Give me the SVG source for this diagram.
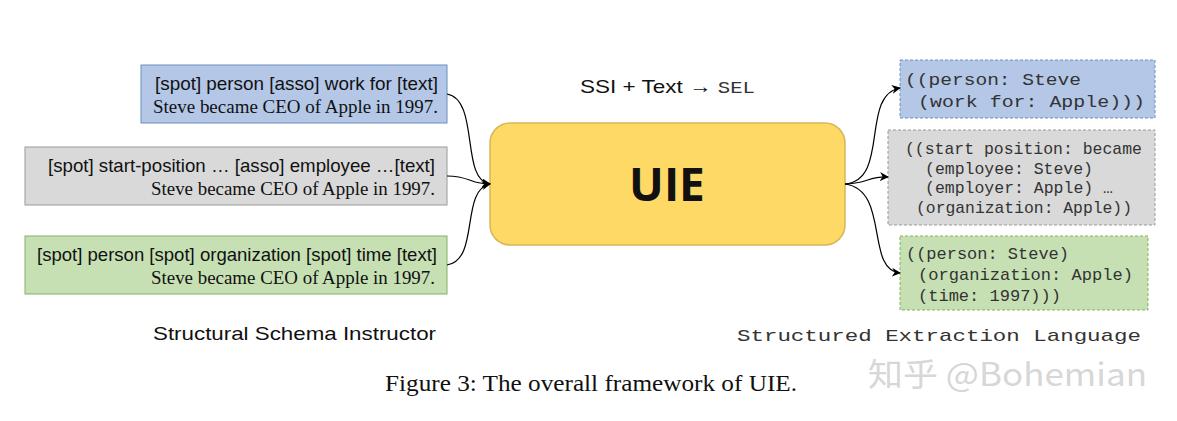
<svg xmlns="http://www.w3.org/2000/svg" width="1177" height="421" viewBox="0 0 1177 421">
<defs>
<marker id="ar" viewBox="0 0 10 10" refX="9" refY="5" markerWidth="9" markerHeight="9" markerUnits="userSpaceOnUse" orient="auto"><path d="M0,0 L10,5 L0,10 L3,5 z" fill="#000"/></marker>
<style>
.s{font-family:"Liberation Sans",Arial,sans-serif;font-size:18.5px;fill:#111}
.r{font-family:"Liberation Serif","Times New Roman",serif;font-size:19px;fill:#111}
.m{font-family:"Liberation Mono","Courier New",monospace;font-size:17px;fill:#333}
.c{fill:none;stroke:#000;stroke-width:1.2}
.bl{fill:#b4c7e7;stroke:#6c8ebf}
.gr{fill:#d9d9d9;stroke:#999}
.gn{fill:#c6e0b4;stroke:#82b366}
.d{stroke-dasharray:3,2}
</style>
</defs>
<rect width="1177" height="421" fill="#fff"/>
<g id="in1"><rect class="bl" x="141" y="65" width="306" height="58"/><text class="s" x="155" y="90" textLength="283" lengthAdjust="spacingAndGlyphs">[spot] person [asso] work for [text]</text><text class="r" x="153" y="113" textLength="285" lengthAdjust="spacingAndGlyphs">Steve became CEO of Apple in 1997.</text></g>
<g id="in2"><rect class="gr" x="25" y="147" width="422" height="58"/><text class="s" x="48" y="172" textLength="387" lengthAdjust="spacingAndGlyphs">[spot] start-position … [asso] employee …[text]</text><text class="r" x="151" y="195" textLength="284" lengthAdjust="spacingAndGlyphs">Steve became CEO of Apple in 1997.</text></g>
<g id="in3"><rect class="gn" x="25" y="236" width="422" height="58"/><text class="s" x="37" y="261" textLength="400" lengthAdjust="spacingAndGlyphs">[spot] person [spot] organization [spot] time [text]</text><text class="r" x="151" y="284" textLength="284" lengthAdjust="spacingAndGlyphs">Steve became CEO of Apple in 1997.</text></g>
<g id="uie"><rect x="490" y="123" width="355" height="122" rx="20" fill="#ffd966" stroke="#d6b656" stroke-width="1.5"/><text x="667" y="201" text-anchor="middle" font-family="'Open Sans','Liberation Sans',sans-serif" font-weight="bold" font-size="46" fill="#111">UIE</text></g>
<text x="580" y="93" class="s" font-size="21" textLength="175" lengthAdjust="spacingAndGlyphs">SSI + Text → <tspan class="m" font-size="20">SEL</tspan></text>
<g id="out1"><rect class="bl d" x="900" y="60" width="255" height="58"/><text class="m" x="905" y="85" textLength="176" lengthAdjust="spacingAndGlyphs">((person: Steve</text><text class="m" x="918" y="107" textLength="227" lengthAdjust="spacingAndGlyphs">(work for: Apple)))</text></g>
<g id="out2"><rect class="gr d" x="888" y="130" width="267" height="95"/><text class="m" x="905" y="154" textLength="237" lengthAdjust="spacingAndGlyphs">((start position: became</text><text class="m" x="925" y="174" textLength="168" lengthAdjust="spacingAndGlyphs">(employee: Steve)</text><text class="m" x="925" y="193" textLength="188" lengthAdjust="spacingAndGlyphs">(employer: Apple) …</text><text class="m" x="916" y="213" textLength="216" lengthAdjust="spacingAndGlyphs">(organization: Apple))</text></g>
<g id="out3"><rect class="gn d" x="900" y="236" width="248" height="74"/><text class="m" x="906" y="259" textLength="163" lengthAdjust="spacingAndGlyphs">((person: Steve)</text><text class="m" x="918" y="280" textLength="215" lengthAdjust="spacingAndGlyphs">(organization: Apple)</text><text class="m" x="918" y="301" textLength="143" lengthAdjust="spacingAndGlyphs">(time: 1997)))</text></g>
<g id="connectors">
<path class="c" d="M447,94 C480,100 460,180 490,184" marker-end="url(#ar)"/>
<path class="c" d="M447,176 C470,176 470,184 490,184" marker-end="url(#ar)"/>
<path class="c" d="M447,265 C480,260 460,190 490,184" marker-end="url(#ar)"/>
<path class="c" d="M845,184 C890,180 860,95 900,88" marker-end="url(#ar)"/>
<path class="c" d="M845,184 C865,184 870,176 888,177" marker-end="url(#ar)"/>
<path class="c" d="M845,184 C890,190 865,270 900,273" marker-end="url(#ar)"/>
</g>
<text class="s" x="153" y="340" font-size="23" textLength="283" lengthAdjust="spacingAndGlyphs">Structural Schema Instructor</text>
<text class="m" x="737" y="341" font-size="23" textLength="404" lengthAdjust="spacingAndGlyphs">Structured Extraction Language</text>
<text x="868" y="386" font-family="'Noto Sans CJK SC','Liberation Sans',sans-serif" font-size="32" fill="#ccc" fill-opacity="0.8" textLength="279" lengthAdjust="spacingAndGlyphs">知乎 @Bohemian</text>
<text x="385" y="391" font-family="'Liberation Serif',serif" font-size="24" fill="#111" textLength="412" lengthAdjust="spacingAndGlyphs">Figure 3: The overall framework of UIE.</text>
</svg>
